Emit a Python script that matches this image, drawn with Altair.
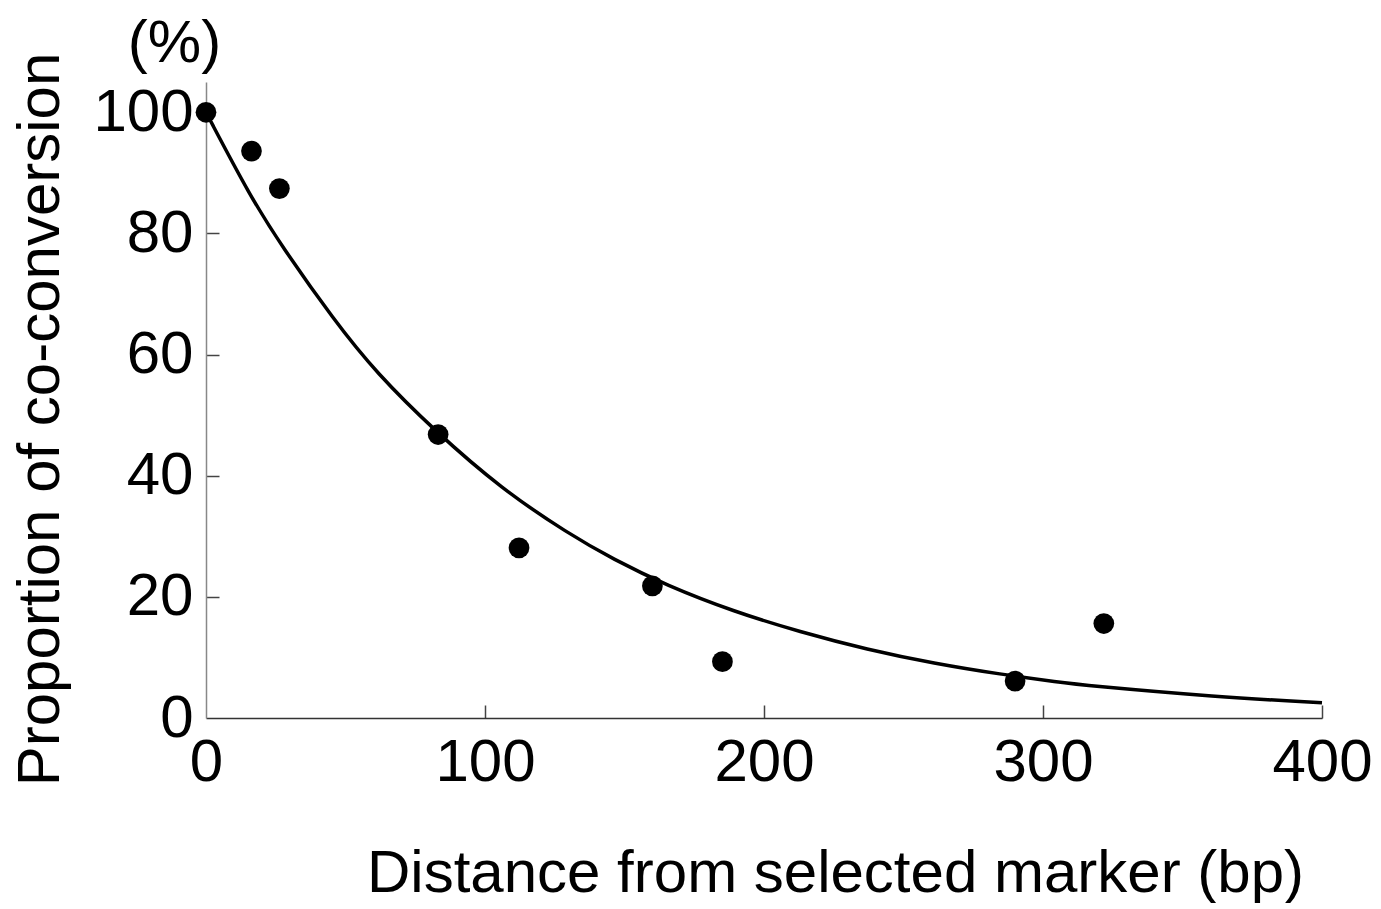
import altair as alt
import pandas as pd

# Observed points (distance in bp, proportion of co-conversion in %)
point_distance = [0, 16.3, 26.3, 83.2, 112.2, 160.0, 185.1, 290.0, 321.8]
point_proportion = [100, 93.6, 87.4, 46.8, 28.1, 21.8, 9.3, 6.1, 15.6]

# Fitted curve
curve_distance = [0, 16, 27, 46, 61, 82, 106, 130, 146, 165, 189, 213, 237, 261, 285, 306, 315, 362, 400]
curve_proportion = [100, 86.0, 78.0, 65.6, 57.0, 47.4, 37.8, 30.4, 26.2, 21.9, 17.6, 14.2, 11.3, 9.0, 7.2, 5.9, 5.4, 3.5, 2.5]

x_ticks = [0, 100, 200, 300, 400]
y_ticks = [0, 20, 40, 60, 80, 100]
x_inner_ticks = [100, 200, 300, 400]
y_inner_ticks = [20, 40, 60, 80]

FONT = "Liberation Sans"
W, H = 1116, 636

df_pts = pd.DataFrame({"distance": point_distance, "proportion": point_proportion})
df_curve = pd.DataFrame({"distance": curve_distance, "proportion": curve_proportion})

xscale = alt.Scale(domain=[0, 400], nice=False, zero=False)
yscale = alt.Scale(domain=[0, 105], nice=False, zero=False)

points = alt.Chart(df_pts).mark_circle(size=430, color="black", opacity=1).encode(
    x=alt.X(
        "distance:Q",
        scale=xscale,
        axis=alt.Axis(
            orient="bottom",
            values=x_ticks,
            grid=False,
            ticks=False,
            tickSize=0,
            domain=True,
            domainColor="#333333",
            domainWidth=1.5,
            labelFont=FONT,
            labelFontSize=60,
            labelColor="black",
            labelPadding=15,
            labelFlush=False,
            labelOverlap=False,
            title="Distance from selected marker (bp)",
            titleFont=FONT,
            titleFontSize=60,
            titleFontWeight="normal",
            titleColor="black",
            titleX=629,
            titleY=173,
            titleAlign="center",
            titleBaseline="alphabetic",
        ),
    ),
    y=alt.Y(
        "proportion:Q",
        scale=yscale,
        axis=alt.Axis(
            orient="left",
            values=y_ticks,
            grid=False,
            ticks=False,
            tickSize=0,
            domain=True,
            domainColor="#888888",
            domainWidth=1.5,
            labelFont=FONT,
            labelFontSize=60,
            labelColor="black",
            labelPadding=13,
            labelFlush=False,
            labelOverlap=False,
            title="Proportion of co-conversion",
            titleFont=FONT,
            titleFontSize=60,
            titleFontWeight="normal",
            titleColor="black",
            titleAngle=270,
            titleX=-148,
            titleY=337,
            titleAlign="center",
            titleBaseline="alphabetic",
        ),
    ),
)

curve = alt.Chart(df_curve).mark_line(color="black", strokeWidth=3.5, interpolate="basis").encode(
    x=alt.X(
        "distance:Q",
        scale=xscale,
        axis=alt.Axis(
            orient="top",
            offset=-H,
            values=x_inner_ticks,
            grid=False,
            domain=False,
            labels=False,
            ticks=True,
            tickSize=13,
            tickColor="#444444",
            tickWidth=1.5,
            title=None,
        ),
    ),
    y=alt.Y(
        "proportion:Q",
        scale=yscale,
        axis=alt.Axis(
            orient="right",
            offset=-W,
            values=y_inner_ticks,
            grid=False,
            domain=False,
            labels=False,
            ticks=True,
            tickSize=13,
            tickColor="#444444",
            tickWidth=1.5,
            title="(%)",
            titleFont=FONT,
            titleFontSize=60,
            titleFontWeight="normal",
            titleColor="black",
            titleAngle=0,
            titleX=-32,
            titleY=-21,
            titleAlign="center",
            titleBaseline="alphabetic",
        ),
    ),
)

chart = (
    alt.layer(curve, points)
    .resolve_axis(x="independent", y="independent")
    .properties(
        width=W,
        height=H,
        padding={"left": 198, "top": 74, "right": 51, "bottom": 185},
        autosize=alt.AutoSizeParams(type="none"),
        background="white",
    )
    .configure_view(stroke=None)
)

chart.save("out.html", embed_options={"renderer": "svg", "actions": False})
